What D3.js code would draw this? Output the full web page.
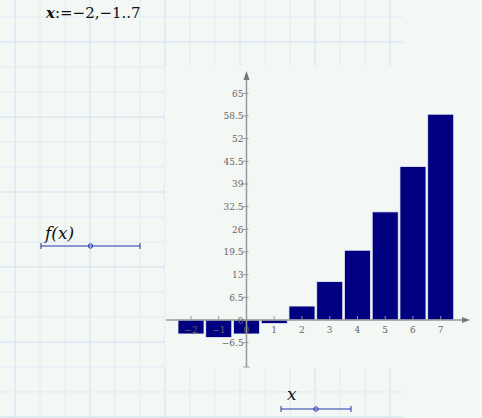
<!DOCTYPE html>
<html><head><meta charset="utf-8">
<script src="https://cdn.jsdelivr.net/npm/d3@7"></script>
<style>body{margin:0;background:#f4f8f5}</style>
</head><body><div id="chart-area"></div>
<script>
// data
const xs = [-2, -1, 0, 1, 2, 3, 4, 5, 6, 7];
const fx = [-4, -5, -4, -1, 4, 11, 20, 31, 44, 59];
const yTicks = [-6.5, 0, 6.5, 13, 19.5, 26, 32.5, 39, 45.5, 52, 58.5, 65];

const W = 482, H = 418;
let svg = d3.select("#chart-area").append("svg").attr("width", W).attr("height", H);
svg.append("rect").attr("width", W).attr("height", H).attr("fill", "#f4f8f5");

// worksheet grid
let grid = svg.append("g").attr("stroke", "#dbe8f5").attr("stroke-width", 1);
for (let gx = 15; gx <= 403; gx += 25)
	grid.append("line").attr("x1", gx).attr("x2", gx).attr("y1", 0).attr("y2", H)
		.attr("stroke", (gx - 15) % 75 == 0 ? "#cfe0f2" : "#e0ebf6");
for (let gy = 17; gy <= H; gy += 25)
	grid.append("line").attr("x1", 0).attr("x2", 403).attr("y1", gy).attr("y2", gy)
		.attr("stroke", (gy - 17) % 75 == 25 ? "#cfe0f2" : "#e0ebf6");

// plot region covers the grid
svg.append("rect").attr("x", 165).attr("y", 66).attr("width", 305).attr("height", 302).attr("fill", "#f4f8f5");

// scales
const x = d3.scaleLinear().domain([-2, 7]).range([191, 440.7]);
const y = d3.scaleLinear().domain([0, 65]).range([320, 93.3]);
const bw = 26;

// bars
svg.append("g").selectAll("rect").data(xs).enter().append("rect")
	.attr("x", (d) => x(d) - bw / 2)
	.attr("y", (d, i) => y(Math.max(0, fx[i])))
	.attr("width", bw)
	.attr("height", (d, i) => Math.abs(y(fx[i]) - y(0)))
	.attr("fill", "#000080")
	.attr("stroke", "#e8ecf4").attr("stroke-width", 0.8);

const axisColor = "#999";
// axes lines
svg.append("line").attr("x1", x(0)).attr("x2", x(0)).attr("y1", 74).attr("y2", 367).attr("stroke", axisColor).attr("stroke-width", 1.5);
svg.append("line").attr("x1", 166).attr("x2", 463).attr("y1", y(0)).attr("y2", y(0)).attr("stroke", axisColor).attr("stroke-width", 1.5);
svg.append("line").attr("x1", x(0) - 3).attr("x2", x(0) + 3).attr("y1", 367).attr("y2", 367).attr("stroke", axisColor);
svg.append("path").attr("d", `M${x(0) - 3},80 L${x(0)},71 L${x(0) + 3},80Z`).attr("fill", "#777");
svg.append("path").attr("d", `M462,${y(0) - 3} L470,${y(0)} L462,${y(0) + 3}Z`).attr("fill", "#777");

const font = "'DejaVu Serif', serif";
// y ticks
let yt = svg.append("g");
yTicks.forEach(function(t) {
	yt.append("line").attr("x1", x(0) - 4).attr("x2", x(0) + 2).attr("y1", y(t)).attr("y2", y(t)).attr("stroke", axisColor);
	yt.append("text").attr("x", x(0) - 3).attr("y", y(t) + 3.5).attr("text-anchor", "end")
		.attr("font-family", font).attr("font-size", 9).attr("fill", "#666")
		.text(String(t).replace("-", "\u2212"));
});
// x ticks
let xt = svg.append("g");
xs.forEach(function(t) {
	xt.append("line").attr("x1", x(t)).attr("x2", x(t)).attr("y1", y(0) - 4).attr("y2", y(0)).attr("stroke", axisColor);
	xt.append("text").attr("x", x(t)).attr("y", y(0) + 13).attr("text-anchor", "middle")
		.attr("font-family", font).attr("font-size", 9).attr("fill", "#666")
		.text(String(t).replace("-", "\u2212"));
});

// definition text
let def = svg.append("text").attr("x", 46).attr("y", 18).attr("font-family", font).attr("font-size", 15).attr("fill", "#111");
def.append("tspan").attr("font-style", "italic").attr("font-weight", "bold").text("x");
def.append("tspan").text(":=\u22122,\u22121..7");

// axis labels with placeholders
function label(txt, tx, ty, x1, x2, ly) {
	svg.append("text").attr("x", tx).attr("y", ty).attr("font-family", font).attr("font-style", "italic")
		.attr("font-size", 17).attr("fill", "#111").text(txt);
	let g = svg.append("g").attr("stroke", "#2233aa").attr("fill", "none");
	g.append("line").attr("x1", x1).attr("x2", x2).attr("y1", ly).attr("y2", ly);
	g.append("line").attr("x1", x1).attr("x2", x1).attr("y1", ly - 3).attr("y2", ly + 3);
	g.append("line").attr("x1", x2).attr("x2", x2).attr("y1", ly - 3).attr("y2", ly + 3);
	g.append("circle").attr("cx", (x1 + x2) / 2).attr("cy", ly).attr("r", 2.2);
}
label("f(x)", 45, 239, 41, 140, 246);
label("x", 287, 400, 281, 351, 409);
</script>
</body></html>
